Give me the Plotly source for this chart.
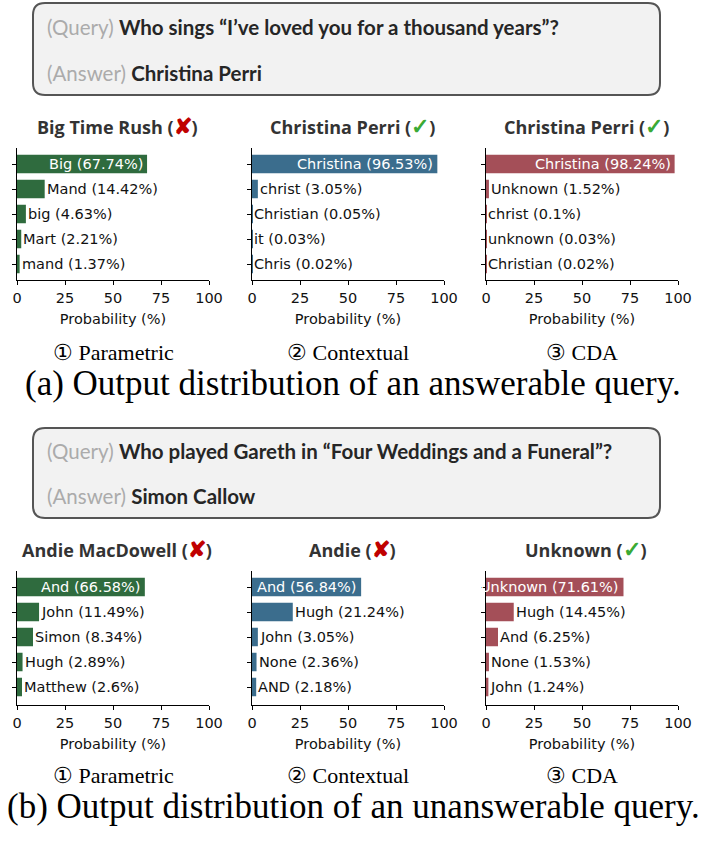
import plotly.graph_objects as go

W, H = 707, 842

# (a) answerable query
a_query = "Who sings “I’ve loved you for a thousand years”?"
a_answer = "Christina Perri"
a_titles = ["Big Time Rush", "Christina Perri", "Christina Perri"]
a_marks = ["x", "v", "v"]
a_param_tokens = ["Big", "Mand", "big", "Mart", "mand"]
a_param_probs = [67.74, 14.42, 4.63, 2.21, 1.37]
a_ctx_tokens = ["Christina", "christ", "Christian", "it", "Chris"]
a_ctx_probs = [96.53, 3.05, 0.05, 0.03, 0.02]
a_cda_tokens = ["Christina", "Unknown", "christ", "unknown", "Christian"]
a_cda_probs = [98.24, 1.52, 0.1, 0.03, 0.02]

# (b) unanswerable query
b_query = "Who played Gareth in “Four Weddings and a Funeral”?"
b_answer = "Simon Callow"
b_titles = ["Andie MacDowell", "Andie", "Unknown"]
b_marks = ["x", "x", "v"]
b_param_tokens = ["And", "John", "Simon", "Hugh", "Matthew"]
b_param_probs = [66.58, 11.49, 8.34, 2.89, 2.6]
b_ctx_tokens = ["And", "Hugh", "John", "None", "AND"]
b_ctx_probs = [56.84, 21.24, 3.05, 2.36, 2.18]
b_cda_tokens = ["Unknown", "Hugh", "And", "None", "John"]
b_cda_probs = [71.61, 14.45, 6.25, 1.53, 1.24]

method_names = ["① Parametric", "② Contextual", "③ CDA"]
x_ticks = [0, 25, 50, 75, 100]

colors = ["#2f6b3e", "#3b6d8d", "#a44f58"]
SANS = "DejaVu Sans"
TITLE_FONT = "Open Sans"
BOX_FONT = "Lato"
SERIF = "Liberation Serif"

# pixel layout
col_x = [(17, 209), (252, 444), (486, 678)]
row_y = [(148, 280), (571, 705)]
row_yrange = [[4.64, -0.64], [4.72, -0.64]]


def px(x):
    return x / W


def py(y):
    return 1 - y / H


def rounded_box(x0, y0, x1, y1, r=12):
    rx, ry = r / W, r / H
    X0, X1, Y0, Y1 = px(x0), px(x1), py(y0), py(y1)
    return (f"M{X0 + rx},{Y0} L{X1 - rx},{Y0} Q{X1},{Y0} {X1},{Y0 - ry} "
            f"L{X1},{Y1 + ry} Q{X1},{Y1} {X1 - rx},{Y1} L{X0 + rx},{Y1} "
            f"Q{X0},{Y1} {X0},{Y1 + ry} L{X0},{Y0 - ry} Q{X0},{Y0} {X0 + rx},{Y0} Z")


fig = go.Figure()
annotations = []
shapes = []

rows = [
    dict(query=a_query, answer=a_answer, titles=a_titles, marks=a_marks,
         data=[(a_param_tokens, a_param_probs), (a_ctx_tokens, a_ctx_probs), (a_cda_tokens, a_cda_probs)],
         box=(33, 3, 660, 95), title_y=125, method_y=352,
         caption="(a) Output distribution of an answerable query.", caption_y=383),
    dict(query=b_query, answer=b_answer, titles=b_titles, marks=b_marks,
         data=[(b_param_tokens, b_param_probs), (b_ctx_tokens, b_ctx_probs), (b_cda_tokens, b_cda_probs)],
         box=(33, 428, 660, 518), title_y=548, method_y=775,
         caption="(b) Output distribution of an unanswerable query.", caption_y=806),
]

k = 0
for r, row in enumerate(rows):
    bx0, by0, bx1, by1 = row["box"]
    shapes.append(dict(type="path", path=rounded_box(bx0, by0, bx1, by1), xref="paper", yref="paper",
                       fillcolor="#f2f2f2", line=dict(color="#555555", width=2), layer="below"))
    qy = by0 + (by1 - by0) * 0.26
    ay = by0 + (by1 - by0) * 0.76
    annotations.append(dict(x=px(45), y=py(qy), xref="paper", yref="paper", xanchor="left", yanchor="middle",
                            showarrow=False, font=dict(family=BOX_FONT, size=20.5, color="#262626"),
                            text=f"<span style='color:#ababab'>(Query)</span> <b>{row['query']}</b>"))
    annotations.append(dict(x=px(45), y=py(ay), xref="paper", yref="paper", xanchor="left", yanchor="middle",
                            showarrow=False, font=dict(family=BOX_FONT, size=20.5, color="#262626"),
                            text=f"<span style='color:#ababab'>(Answer)</span> <b>{row['answer']}</b>"))
    annotations.append(dict(x=px(353), y=py(row["caption_y"]), xref="paper", yref="paper", xanchor="center",
                            yanchor="middle", showarrow=False, text=row["caption"],
                            font=dict(family=SERIF, size=35, color="black")))

    y_top, y_bot = row_y[r]
    for c in range(3):
        k += 1
        xa = "x" if k == 1 else f"x{k}"
        ya = "y" if k == 1 else f"y{k}"
        tokens, probs = row["data"][c]
        idx = list(range(len(tokens)))
        fig.add_trace(go.Bar(x=probs, y=idx, orientation="h", width=0.74,
                             marker=dict(color=colors[c], line=dict(width=0)),
                             xaxis=xa, yaxis=ya, showlegend=False, hoverinfo="skip"))
        for i, (t, p) in enumerate(zip(tokens, probs)):
            label = f"{t} ({p}%)"
            if i == 0:
                annotations.append(dict(x=p, y=i, xref=xa, yref=ya, xanchor="right", yanchor="middle",
                                        xshift=-2, showarrow=False, text=label,
                                        font=dict(family=SANS, size=14.5, color="white")))
            else:
                annotations.append(dict(x=p, y=i, xref=xa, yref=ya, xanchor="left", yanchor="middle",
                                        xshift=0, showarrow=False, text=label,
                                        font=dict(family=SANS, size=14.5, color="#111111")))
        x0, x1 = col_x[c]
        fig.update_layout(**{
            f"xaxis{'' if k == 1 else k}": dict(
                domain=[px(x0), px(x1)], anchor=ya, range=[0, 100], tickvals=x_ticks, automargin=False,
                ticks="outside", ticklen=4, tickcolor="black", showline=True, linecolor="black", linewidth=1.2,
                showgrid=False, zeroline=False, tickfont=dict(family=SANS, size=14.5, color="#111111"),
                title=dict(text="Probability (%)", standoff=9, font=dict(family=SANS, size=14.5, color="#111111"))),
            f"yaxis{'' if k == 1 else k}": dict(
                domain=[py(y_bot), py(y_top)], anchor=xa, range=row_yrange[r], tickvals=idx, automargin=False,
                ticktext=[""] * len(idx), ticks="outside", ticklen=4, tickcolor="black",
                showline=True, linecolor="black", linewidth=1.2, showgrid=False, zeroline=False),
        })
        cx = (x0 + x1) / 2
        mark = ("<span style='color:#c00000;font-size:22px'>✘</span>" if row["marks"][c] == "x"
                else "<span style='color:#3aaa35;font-size:22px'>✓</span>")
        annotations.append(dict(x=px(cx + 4), y=py(row["title_y"]), xref="paper", yref="paper", xanchor="center",
                                yanchor="middle", showarrow=False,
                                text=f"<b>{row['titles'][c]} ({mark})</b>",
                                font=dict(family=TITLE_FONT, size=18, color="#333333")))
        annotations.append(dict(x=px(cx), y=py(row["method_y"]), xref="paper", yref="paper", xanchor="center",
                                yanchor="middle", showarrow=False, text=method_names[c],
                                font=dict(family=SERIF, size=22, color="black")))

fig.update_layout(width=W, height=H, margin=dict(l=0, r=0, t=0, b=0, autoexpand=False), plot_bgcolor="white",
                  paper_bgcolor="white", annotations=annotations, shapes=shapes, bargap=0.26)

# remove the default page margin so the figure sits at the window origin
fit_page = "document.body.style.margin='0';document.body.style.overflow='hidden';"
fig.write_html("out.html", post_script=fit_page, config={"displayModeBar": False})
